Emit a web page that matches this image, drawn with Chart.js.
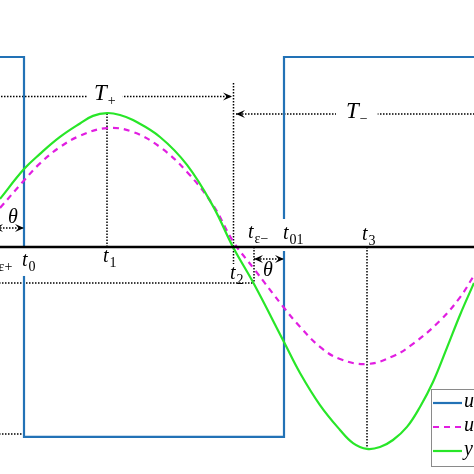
<!DOCTYPE html>
<html>
<head>
<meta charset="utf-8">
<script src="https://cdn.jsdelivr.net/npm/chart.js@4.4.1/dist/chart.umd.min.js"></script>
<style>
  html, body { margin: 0; padding: 0; background: #fff; }
  #wrap { width: 474px; height: 474px; }
</style>
</head>
<body>
<div id="wrap"><canvas id="waveChart"></canvas></div>
<script>
// signals (time in figure units, amplitude scaled so u = +/-1)
const tSquare = [0, 24, 24, 284, 284, 474];
const uSquare = [1, 1, -1, -1, 1, 1];

const tFilt = [0, 24, 40, 60, 80, 107, 133, 160, 187, 213, 233, 254, 284, 300, 320, 340, 367, 393, 413, 440, 460, 474];
const uFilt = [0.205, 0.35, 0.44, 0.526, 0.585, 0.626, 0.605, 0.526, 0.395, 0.221, 0.03, -0.115, -0.32, -0.42, -0.526, -0.59, -0.616, -0.575, -0.51, -0.388, -0.265, -0.15];

const tOut = [0, 24, 40, 60, 80, 93, 107, 120, 133, 160, 187, 213, 233, 254, 284, 300, 320, 340, 353, 367, 380, 393, 407, 420, 433, 447, 460, 474];
const yOut = [0.253, 0.41, 0.49, 0.579, 0.65, 0.69, 0.705, 0.695, 0.668, 0.579, 0.432, 0.215, 0, -0.195, -0.5, -0.663, -0.832, -0.963, -1.032, -1.063, -1.053, -1.016, -0.947, -0.842, -0.711, -0.53, -0.358, -0.189];

// switching / marker instants and levels
const t0 = 24, t1 = 107, t2 = 233.5, tEpsMinus = 254, t01 = 284, t3 = 367;
const theta = t01 - tEpsMinus;
const tEpsPlus = t0 - theta;
const epsMinus = -0.189, yPeak = 0.705, yTrough = -1.063;

const pts = (xs, ys) => xs.map((x, i) => ({ x: x, y: ys[i] }));
const seg = (x1, y1, x2, y2) => [{ x: x1, y: y1 }, { x: x2, y: y2 }];

const dotted = { borderColor: '#000', borderWidth: 1.5, borderDash: [1.5, 1.5], pointRadius: 0, tension: 0 };

const datasets = [
    // 0: time axis (drawn last)
    { data: seg(-10, 0, 484, 0), borderColor: '#000', borderWidth: 2.6, pointRadius: 0 },
    // 1..3: the signals
    { label: 'y', data: pts(tOut, yOut), borderColor: 'rgb(40,230,40)', borderWidth: 2.2, pointRadius: 0, tension: 0.4 },
    { label: 'u', mathSub: '1', data: pts(tFilt, uFilt), borderColor: 'rgb(225,30,225)', borderWidth: 2.2, borderDash: [6, 5], pointRadius: 0, tension: 0.4 },
    { label: 'u', data: pts(tSquare, uSquare), borderColor: '#2272b6', borderWidth: 2.2, pointRadius: 0, tension: 0 },
    // guide lines
    Object.assign({ data: seg(t1, 0, t1, yPeak) }, dotted),
    Object.assign({ data: seg(t2, 0.863, t2, -0.089) }, dotted),
    Object.assign({ data: seg(tEpsMinus, 0, tEpsMinus, epsMinus) }, dotted),
    Object.assign({ data: seg(-10, epsMinus, tEpsMinus, epsMinus) }, dotted),
    Object.assign({ data: seg(t3, 0, t3, yTrough) }, dotted),
    Object.assign({ data: seg(-10, -0.984, t0 - 2, -0.984) }, dotted),
    // arrows
    Object.assign({ data: seg(-20, 0.792, t2 - 1.5, 0.792), heads: ['end'] }, dotted),
    Object.assign({ data: seg(t2 + 2.5, 0.70, 490, 0.70), heads: ['start'] }, dotted),
    Object.assign({ data: seg(tEpsPlus, 0.1, t0, 0.1), heads: ['start', 'end'] }, dotted),
    Object.assign({ data: seg(tEpsMinus, -0.063, t01, -0.063), heads: ['start', 'end'] }, dotted)
];

// math labels: x = left edge (or centre), y = baseline, in data units
const labels = [
    { x: -8, y: -0.1, main: 't', sub: 'ε+' },
    { x: 22, y: -0.1, main: 't', sub: '0', padX: 2, padY: 4 },
    { x: 103, y: -0.08, main: 't', sub: '1' },
    { x: 230, y: -0.168, main: 't', sub: '2' },
    { x: 248, y: 0.047, main: 't', sub: 'ε−' },
    { x: 283, y: 0.042, main: 't', sub: '01', padX: 3, padY: 6 },
    { x: 362, y: 0.037, main: 't', sub: '3' },
    { x: 94, y: 0.774, main: 'T', sub: '+', big: true, padX: 7, padY: 2 },
    { x: 346, y: 0.679, main: 'T', sub: '−', big: true, padX: 10, padY: 2 },
    { x: 13, y: 0.126, main: 'θ', center: true },
    { x: 268, y: -0.153, main: 'θ', center: true }
];

const MAIN_FONT = 'italic 20px "Liberation Serif", serif';
const BIG_FONT = 'italic 23px "Liberation Serif", serif';
const SUB_FONT = '14px "Liberation Serif", serif';

function labelBox(chart, l) {
    const ctx = chart.ctx;
    ctx.font = l.big ? BIG_FONT : MAIN_FONT;
    const wMain = ctx.measureText(l.main).width;
    ctx.font = SUB_FONT;
    const wSub = l.sub ? ctx.measureText(l.sub).width : 0;
    let left = chart.scales.x.getPixelForValue(l.x);
    const base = chart.scales.y.getPixelForValue(l.y);
    if (l.center) left -= (wMain + wSub) / 2;
    return { left: left, base: base, wMain: wMain, w: wMain + wSub + 1, top: base - 14, bottom: base + (l.sub ? 6 : 3) };
}

function drawMath(ctx, left, base, main, sub, wMain, big) {
    ctx.fillStyle = '#000';
    ctx.textBaseline = 'alphabetic';
    ctx.textAlign = 'left';
    ctx.font = big ? BIG_FONT : MAIN_FONT;
    ctx.fillText(main, left, base);
    if (sub) {
        ctx.font = SUB_FONT;
        ctx.fillText(sub, left + wMain + 1, base + 5);
    }
}

function arrowHead(ctx, x, y, dir) {
    const L = 9, W = 4;
    ctx.beginPath();
    ctx.moveTo(x, y);
    ctx.lineTo(x - dir * L, y - W);
    ctx.lineTo(x - dir * L * 0.6, y);
    ctx.lineTo(x - dir * L, y + W);
    ctx.closePath();
    ctx.fill();
}

const annotate = {
    id: 'annotate',
    beforeDatasetDraw(chart, args) {
        // white boxes behind labels, before the axis goes on top
        if (args.index !== 0) return;
        const ctx = chart.ctx;
        ctx.save();
        ctx.fillStyle = '#fff';
        labels.forEach(l => {
            if (l.padX === undefined) return;
            const b = labelBox(chart, l);
            ctx.fillRect(b.left - l.padX, b.top - l.padY, b.w + 2 * l.padX, b.bottom - b.top + 2 * l.padY);
        });
        ctx.restore();
    },
    afterDatasetsDraw(chart) {
        const ctx = chart.ctx;
        ctx.save();
        ctx.fillStyle = '#000';
        chart.data.datasets.forEach((ds, i) => {
            if (!ds.heads) return;
            const p = chart.getDatasetMeta(i).data;
            const a = p[0], b = p[p.length - 1];
            const dir = b.x > a.x ? 1 : -1;
            if (ds.heads.includes('end')) arrowHead(ctx, b.x, b.y, dir);
            if (ds.heads.includes('start')) arrowHead(ctx, a.x, a.y, -dir);
        });
        labels.forEach(l => {
            const b = labelBox(chart, l);
            drawMath(ctx, b.left, b.base, l.main, l.sub, b.wMain, l.big);
        });
        ctx.restore();
    },
    afterDraw(chart) {
        // legend box, partly cut by the right edge like the original
        const ctx = chart.ctx;
        const area = chart.chartArea;
        const order = [3, 2, 1];
        const bx = area.right - 43, by = area.bottom - 85;
        ctx.save();
        ctx.fillStyle = '#fff';
        ctx.fillRect(bx, by, 80, 77);
        ctx.strokeStyle = '#8a8a8a';
        ctx.lineWidth = 1;
        ctx.strokeRect(bx + 0.5, by + 0.5, 80, 77);
        order.forEach((idx, k) => {
            const ds = chart.data.datasets[idx];
            const y = by + 14 + k * 24;
            ctx.strokeStyle = ds.borderColor;
            ctx.lineWidth = ds.borderWidth;
            ctx.setLineDash(ds.borderDash || []);
            ctx.beginPath();
            ctx.moveTo(bx + 2, y);
            ctx.lineTo(bx + 31, y);
            ctx.stroke();
            ctx.setLineDash([]);
            drawMath(ctx, bx + 33, y + 4, ds.label, ds.mathSub, 10);
        });
        ctx.restore();
    }
};

const waveChart = document.getElementById('waveChart').getContext('2d');
const chart = new Chart(waveChart, {
    type: 'line',
    data: { datasets: datasets },
    options: {
        responsive: true,
        maintainAspectRatio: false,
        animation: false,
        layout: { padding: 0 },
        plugins: { legend: { display: false }, tooltip: { enabled: false } },
        scales: {
            x: { type: 'linear', min: 0, max: 474, display: false },
            y: { min: -1.195, max: 1.3, display: false }
        }
    },
    plugins: [annotate]
});
</script>
</body>
</html>
